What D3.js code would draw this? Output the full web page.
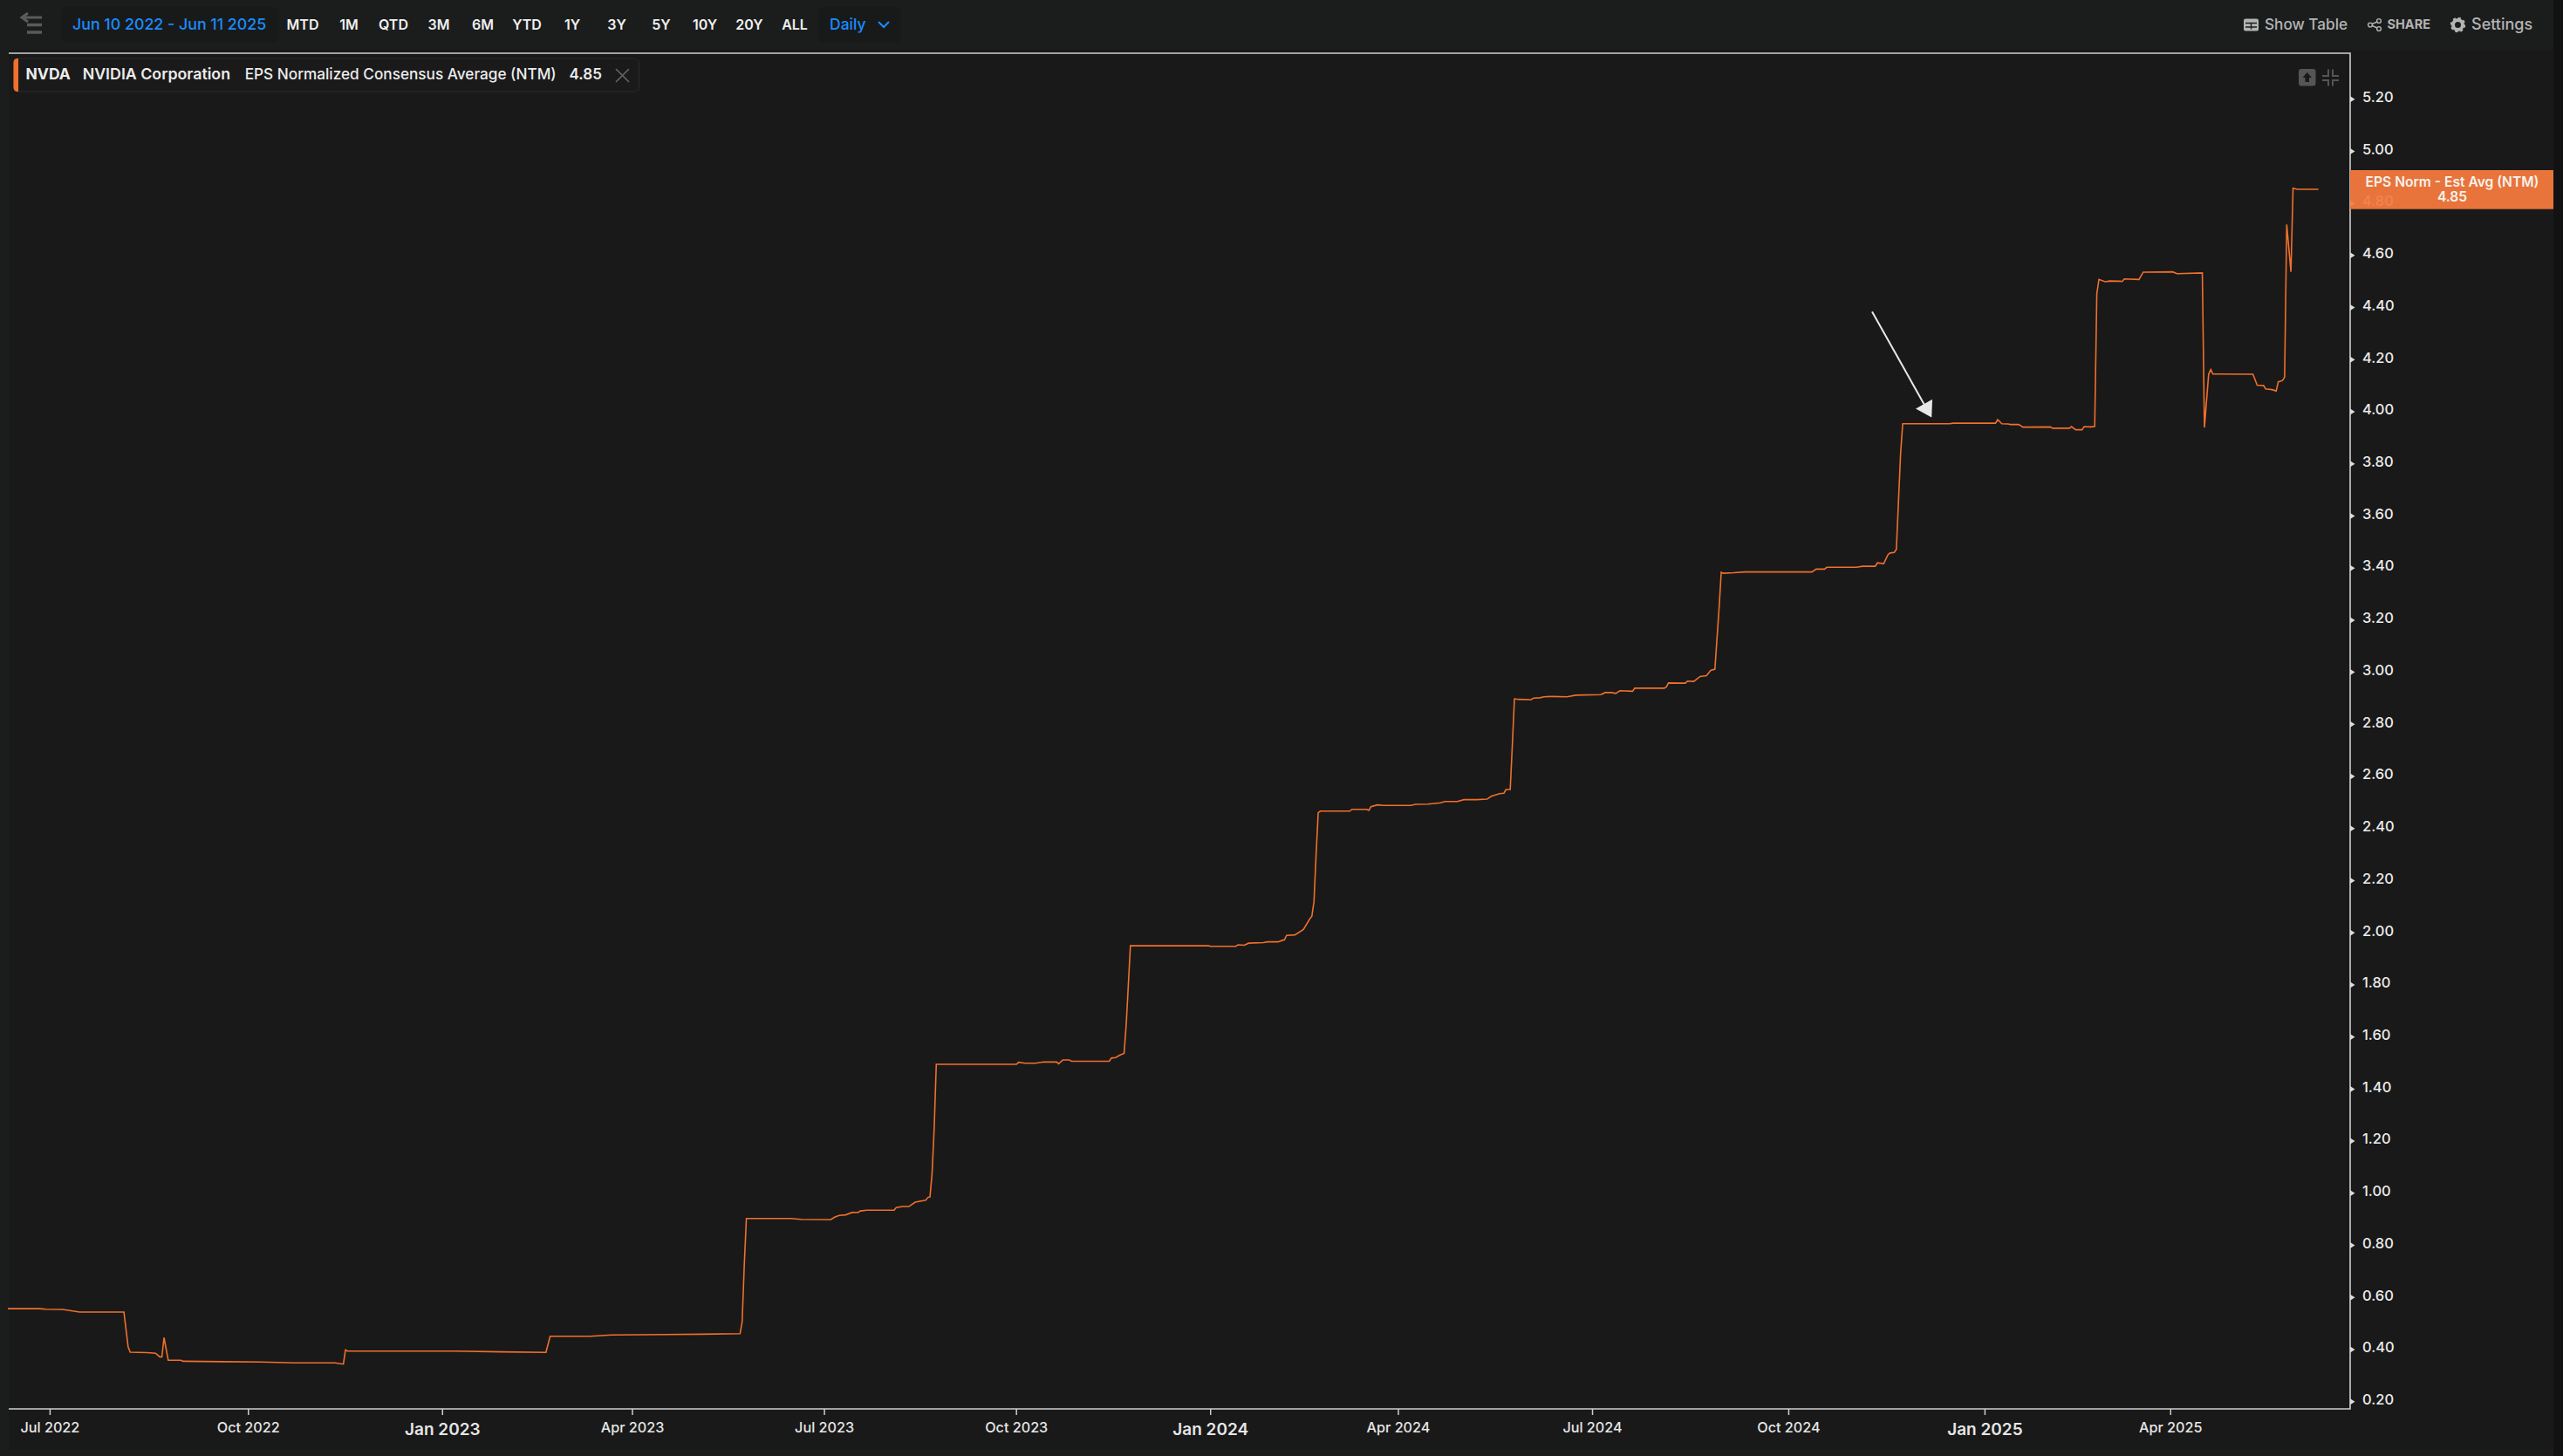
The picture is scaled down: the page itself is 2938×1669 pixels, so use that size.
<!DOCTYPE html>
<html>
<head>
<meta charset="utf-8">
<script src="https://cdnjs.cloudflare.com/ajax/libs/d3/7.8.5/d3.min.js"></script>
<style>
  html, body { margin: 0; padding: 0; background: #191919; overflow: hidden; }
  text { font-family: Inter, "Noto Sans", sans-serif; }
</style>
</head>
<body>
<svg id="chart" width="2938" height="1669"></svg>
<script>
// values, one date per value
const dates = [
  '2022-06-11','2022-06-26','2022-06-29','2022-07-07','2022-07-15','2022-08-05','2022-08-07','2022-08-08','2022-08-16','2022-08-20',
  '2022-08-22','2022-08-23','2022-08-24','2022-08-26','2022-09-01','2022-09-02','2022-10-09','2022-10-25','2022-11-13','2022-11-17',
  '2022-11-18','2022-11-19','2023-01-09','2023-01-31','2023-02-21','2023-02-23','2023-03-14','2023-03-24','2023-05-06','2023-05-24',
  '2023-05-25','2023-05-26','2023-05-27','2023-06-17','2023-06-22','2023-07-06','2023-07-08','2023-07-10','2023-07-13','2023-07-16',
  '2023-07-19','2023-07-20','2023-07-23','2023-08-05','2023-08-06','2023-08-09','2023-08-12','2023-08-15','2023-08-20','2023-08-21',
  '2023-08-22','2023-08-23','2023-08-24','2023-08-25','2023-10-02','2023-10-03','2023-10-06','2023-10-11','2023-10-15','2023-10-21',
  '2023-10-22','2023-10-24','2023-10-27','2023-10-28','2023-11-15','2023-11-16','2023-11-18','2023-11-20','2023-11-22','2023-11-23',
  '2023-11-25','2024-01-01','2024-01-02','2024-01-14','2024-01-15','2024-01-18','2024-01-20','2024-01-27','2024-01-29','2024-02-03',
  '2024-02-05','2024-02-06','2024-02-07','2024-02-11','2024-02-15','2024-02-18','2024-02-19','2024-02-20','2024-02-21','2024-02-22',
  '2024-02-23','2024-03-08','2024-03-09','2024-03-16','2024-03-17','2024-03-18','2024-03-21','2024-03-24','2024-04-06','2024-04-08',
  '2024-04-14','2024-04-20','2024-04-22','2024-04-28','2024-05-01','2024-05-07','2024-05-12','2024-05-14','2024-05-16','2024-05-18',
  '2024-05-20','2024-05-21','2024-05-23','2024-05-24','2024-05-25','2024-05-27','2024-06-02','2024-06-03','2024-06-06','2024-06-08',
  '2024-06-11','2024-06-19','2024-06-23','2024-07-05','2024-07-07','2024-07-10','2024-07-12','2024-07-14','2024-07-20','2024-07-21',
  '2024-08-04','2024-08-05','2024-08-06','2024-08-14','2024-08-15','2024-08-18','2024-08-21','2024-08-24','2024-08-26','2024-08-28',
  '2024-08-30','2024-08-31','2024-09-01','2024-09-06','2024-09-11','2024-10-13','2024-10-15','2024-10-19','2024-10-20','2024-11-03',
  '2024-11-06','2024-11-12','2024-11-13','2024-11-16','2024-11-18','2024-11-19','2024-11-21','2024-11-22','2024-11-24','2024-11-25',
  '2024-12-17','2024-12-19','2025-01-08','2025-01-09','2025-01-11','2025-01-14','2025-01-15','2025-01-19','2025-01-21','2025-02-03',
  '2025-02-04','2025-02-12','2025-02-13','2025-02-15','2025-02-18','2025-02-19','2025-02-22','2025-02-24','2025-02-25','2025-02-26',
  '2025-03-01','2025-03-03','2025-03-08','2025-03-09','2025-03-10','2025-03-17','2025-03-19','2025-04-02','2025-04-04','2025-04-16',
  '2025-04-17','2025-04-19','2025-04-20','2025-04-21','2025-05-10','2025-05-12','2025-05-15','2025-05-16','2025-05-19','2025-05-21',
  '2025-05-22','2025-05-24','2025-05-25','2025-05-26','2025-05-28','2025-05-29','2025-05-31','2025-06-10'
];
const epsValues = [
  .557,.557,.555,.554,.544,.544,.41,.39,.388,.386,
  .372,.372,.446,.359,.359,.355,.352,.349,.349,.344,
  .398,.394,.394,.391,.389,.451,.451,.456,.459,.461,
  .507,.725,.903,.903,.900,.899,.909,.915,.917,.926,
  .927,.932,.935,.935,.945,.949,.949,.966,.973,.984,
  .986,1.076,1.249,1.495,1.495,1.503,1.499,1.499,1.504,1.504,
  1.497,1.512,1.512,1.507,1.507,1.519,1.521,1.530,1.537,1.646,
  1.950,1.950,1.948,1.948,1.954,1.952,1.960,1.962,1.965,1.965,
  1.971,1.973,1.990,1.992,2.013,2.053,2.064,2.12,2.30,2.461,
  2.467,2.467,2.474,2.474,2.470,2.484,2.491,2.489,2.489,2.493,
  2.494,2.499,2.504,2.504,2.511,2.511,2.513,2.524,2.529,2.534,
  2.536,2.550,2.550,2.72,2.898,2.896,2.895,2.901,2.902,2.906,
  2.907,2.906,2.912,2.914,2.922,2.922,2.919,2.929,2.927,2.939,
  2.939,2.944,2.959,2.958,2.966,2.965,2.984,2.987,3.007,3.012,
  3.248,3.384,3.380,3.382,3.385,3.385,3.396,3.396,3.403,3.403,
  3.407,3.407,3.420,3.417,3.451,3.458,3.460,3.472,3.839,3.954,
  3.954,3.956,3.956,3.970,3.954,3.953,3.951,3.951,3.941,3.942,
  3.937,3.937,3.943,3.931,3.931,3.943,3.942,3.944,4.453,4.508,
  4.499,4.502,4.501,4.500,4.510,4.508,4.536,4.537,4.530,4.533,
  3.940,4.144,4.162,4.145,4.144,4.102,4.101,4.088,4.085,4.080,
  4.115,4.120,4.133,4.719,4.537,4.858,4.854,4.854
];

const xTickDates = ['2022-07-01','2022-10-03','2023-01-03','2023-04-03','2023-07-03','2023-10-02','2024-01-02','2024-03-31','2024-07-01','2024-10-02','2025-01-03','2025-04-01'];
const xTickLabels = ['Jul 2022','Oct 2022','Jan 2023','Apr 2023','Jul 2023','Oct 2023','Jan 2024','Apr 2024','Jul 2024','Oct 2024','Jan 2025','Apr 2025'];
const yTickValues = [0.2,0.4,0.6,0.8,1,1.2,1.4,1.6,1.8,2,2.2,2.4,2.6,2.8,3,3.2,3.4,3.6,3.8,4,4.2,4.4,4.6,4.8,5,5.2];

const rangeButtons = ['MTD','1M','QTD','3M','6M','YTD','1Y','3Y','5Y','10Y','20Y','ALL'];
const rangeButtonX = [347,400,451,503,553.5,604,656,707,758,808,859,911];
const lastValue = 4.85;

const parse = d3.utcParse('%Y-%m-%d');
const orange = '#f0702c';

const svg = d3.select('#chart');
const frame = {l: 10, t: 61, r: 2694, b: 1615};

const x = d3.scaleUtc()
    .domain([parse('2022-06-10'), parse('2025-06-11')])
    .range([6.6, 2660]);
const y = d3.scaleLinear()
    .domain([0.2, 5.2])
    .range([1606.7, 113.7]);

// backgrounds
svg.append('rect').attr('width', 2938).attr('height', 1669).attr('fill', '#191919');
svg.append('rect').attr('width', 2938).attr('height', 57).attr('fill', '#1b1d1d');
svg.append('rect').attr('width', 10).attr('height', 1669).attr('fill', '#1b1d1d');
svg.append('rect').attr('y', 1661).attr('width', 2938).attr('height', 8).attr('fill', '#1b1d1d');
svg.append('rect').attr('x', 2927).attr('width', 11).attr('height', 1669).attr('fill', '#121212');

// top toolbar
const bar = svg.append('g');
bar.append('rect').attr('x', 70).attr('y', 8).attr('width', 249).attr('height', 41).attr('rx', 6).attr('fill', '#181a1a');
bar.append('rect').attr('x', 938).attr('y', 8).attr('width', 95).attr('height', 41).attr('rx', 6).attr('fill', '#181a1a');
bar.append('text').attr('x', 83).attr('y', 33.5).attr('fill', '#1a8cff')
    .attr('font-size', 17.8).attr('font-weight', 500).text('Jun 10 2022 - Jun 11 2025');
bar.selectAll('.range').data(rangeButtons).join('text')
    .attr('class', 'range')
    .attr('x', (d, i) => rangeButtonX[i])
    .attr('y', 33.5)
    .attr('text-anchor', 'middle')
    .attr('fill', '#f0f0f0')
    .attr('font-size', 16)
    .attr('font-weight', 600)
    .text(d => d);
bar.append('text').attr('x', 951).attr('y', 34).attr('fill', '#1a8cff')
    .attr('font-size', 17.5).attr('font-weight', 500).text('Daily');
bar.append('path').attr('d', 'M1007,25 L1013,31 L1019,25').attr('fill', 'none').attr('stroke', '#1a8cff').attr('stroke-width', 2);

// collapse icon
bar.append('path').attr('d', 'M48,20 H26 M32,15 L25,20 L32,25').attr('fill', 'none').attr('stroke', '#5a5a5a').attr('stroke-width', 3);
bar.append('path').attr('d', 'M31,28.5 H48 M31,37 H48').attr('fill', 'none').attr('stroke', '#5a5a5a').attr('stroke-width', 3.5);

// right toolbar
const grey = '#b4b4b4';
bar.append('rect').attr('x', 2572).attr('y', 21.5).attr('width', 17).attr('height', 14).attr('rx', 2).attr('fill', grey);
bar.append('path').attr('d', 'M2574,26.5 H2587 M2580.5,26.5 V33.5 M2574,31 H2587').attr('stroke', '#1b1d1d').attr('stroke-width', 1.4).attr('fill', 'none');
bar.append('text').attr('x', 2596).attr('y', 33.5).attr('fill', grey).attr('font-size', 17.2).attr('font-weight', 500).text('Show Table');
bar.append('path').attr('d', 'M2727,24 L2717,28.5 L2727,33').attr('fill', 'none').attr('stroke', grey).attr('stroke-width', 1.4);
[[2717, 28.5], [2727, 24], [2727, 33]].forEach(p => {
  bar.append('circle').attr('cx', p[0]).attr('cy', p[1]).attr('r', 2.4).attr('fill', '#1b1d1d').attr('stroke', grey).attr('stroke-width', 1.4);
});
bar.append('text').attr('x', 2736.5).attr('y', 33).attr('fill', grey).attr('font-size', 14.5).attr('font-weight', 700).text('SHARE');
bar.append('circle').attr('cx', 2817.5).attr('cy', 28.5).attr('r', 5.5).attr('fill', 'none').attr('stroke', grey).attr('stroke-width', 4);
bar.append('circle').attr('cx', 2817.5).attr('cy', 28.5).attr('r', 7.5).attr('fill', 'none').attr('stroke', grey).attr('stroke-width', 2.5).attr('stroke-dasharray', '3 2.9');
bar.append('text').attr('x', 2833).attr('y', 33.5).attr('fill', grey).attr('font-size', 18).attr('font-weight', 500).text('Settings');

// axes
const xAxis = d3.axisBottom(x)
    .tickValues(xTickDates.map(parse))
    .tickFormat((d, i) => xTickLabels[i])
    .tickSize(7)
    .offset(0);
const gx = svg.append('g').attr('transform', `translate(0,${frame.b})`).call(xAxis);
gx.select('.domain').remove();
gx.selectAll('line').attr('stroke', '#cfcfcf').attr('stroke-width', 1.5);
gx.selectAll('text')
    .attr('fill', '#e6e6e6')
    .attr('font-weight', (d, i) => xTickLabels[i].startsWith('Jan') ? 600 : 500)
    .attr('font-size', (d, i) => xTickLabels[i].startsWith('Jan') ? 19 : 16.2)
    .attr('y', (d, i) => xTickLabels[i].startsWith('Jan') ? 17 : 15);

const yAxis = d3.axisRight(y)
    .tickValues(yTickValues)
    .tickFormat(d3.format('.2f'))
    .tickSize(0)
    .offset(0);

// frame
svg.append('path')
    .attr('d', `M${frame.l},${frame.t} H${frame.r} V${frame.b} H${frame.l}`)
    .attr('fill', 'none')
    .attr('stroke', '#cfcfcf')
    .attr('stroke-width', 1.6);

// last value box sits under the y axis labels
svg.append('rect').attr('x', frame.r).attr('y', 195).attr('width', 233).attr('height', 44.7).attr('fill', '#e8743b');

const gy = svg.append('g').attr('transform', `translate(${frame.r},0)`).call(yAxis);
gy.select('.domain').remove();
gy.selectAll('.tick').append('path').attr('d', 'M0,-3.5 L5.5,0 L0,3.5 Z')
    .attr('fill', d => d === 4.8 ? '#f08452' : '#dcdcdc');
gy.selectAll('text')
    .attr('x', 14)
    .attr('dy', '0.2em')
    .attr('fill', d => d === 4.8 ? '#f08452' : '#ececec')
    .attr('font-weight', 500)
    .attr('font-size', 16.5);

svg.append('text').attr('x', 2811).attr('y', 214).attr('text-anchor', 'middle').attr('fill', '#f7f3ef')
    .attr('font-size', 15.6).attr('font-weight', 600).text('EPS Norm - Est Avg (NTM)');
svg.append('text').attr('x', 2811).attr('y', 231).attr('text-anchor', 'middle').attr('fill', '#f7f3ef')
    .attr('font-size', 15.6).attr('font-weight', 600).text(lastValue.toFixed(2));

// series line
const line = d3.line()
    .x((d, i) => x(parse(dates[i])))
    .y(d => y(d));
svg.append('path')
    .datum(epsValues)
    .attr('d', line)
    .attr('fill', 'none')
    .attr('stroke', orange)
    .attr('stroke-width', 1.6)
    .attr('stroke-linejoin', 'miter');

// arrow drawn on the chart, pointing at the Nov 2024 step
const arrowTail = [new Date('2024-11-10T12:00Z'), 4.384];
const arrowTip = [new Date('2024-12-08T17:00Z'), 3.978];
const tail = [x(arrowTail[0]), y(arrowTail[1])];
const tip = [x(arrowTip[0]), y(arrowTip[1])];
const len = Math.hypot(tip[0] - tail[0], tip[1] - tail[1]);
const ux = (tip[0] - tail[0]) / len;
const uy = (tip[1] - tail[1]) / len;
const headL = 17.7, headW = 10.9;
const baseX = tip[0] - ux * headL, baseY = tip[1] - uy * headL;
svg.append('line')
    .attr('x1', tail[0]).attr('y1', tail[1])
    .attr('x2', baseX).attr('y2', baseY)
    .attr('stroke', '#e8e8e8').attr('stroke-width', 2);
svg.append('path')
    .attr('d', `M${tip[0]},${tip[1]} L${baseX - uy * headW},${baseY + ux * headW} L${baseX + uy * headW},${baseY - ux * headW} Z`)
    .attr('fill', '#e8e8e8');

// legend chip
const chip = svg.append('g');
chip.append('rect').attr('x', 15.5).attr('y', 67).attr('width', 717).attr('height', 38).attr('rx', 5)
    .attr('fill', '#1a1a1a').attr('stroke', '#2b2b2b');
chip.append('path').attr('d', 'M21,67 H20 Q15.5,67 15.5,72 V100 Q15.5,105 20,105 H21 Z').attr('fill', orange);
const chipText = [
  {x: 29.5, t: 'NVDA', w: 700, s: 17.5},
  {x: 94.7, t: 'NVIDIA Corporation', w: 600, s: 17.8},
  {x: 280.7, t: 'EPS Normalized Consensus Average (NTM)', w: 500, s: 17.2},
  {x: 652.6, t: '4.85', w: 600, s: 17}
];
chip.selectAll('.chiptext').data(chipText).join('text')
    .attr('class', 'chiptext')
    .attr('x', d => d.x)
    .attr('y', 90.5)
    .attr('fill', '#ececec')
    .attr('font-size', d => d.s)
    .attr('font-weight', d => d.w)
    .text(d => d.t);
chip.append('path').attr('d', 'M706,79 L721,94 M721,79 L706,94').attr('stroke', '#666').attr('stroke-width', 1.6);

// small corner icons
const icons = svg.append('g');
icons.append('rect').attr('x', 2635).attr('y', 79).attr('width', 19.5).attr('height', 19.5).attr('rx', 3).attr('fill', '#555');
icons.append('path').attr('d', 'M2644.7,83 L2650,89 H2647 V94 H2642.5 V89 H2639.5 Z').attr('fill', '#191919');
icons.append('path').attr('d', 'M2662,87 H2669 V79.5 M2674,79.5 V87 H2681 M2662,92 H2669 V98.5 M2674,98.5 V92 H2681')
    .attr('fill', 'none').attr('stroke', '#555').attr('stroke-width', 2);
</script>
</body>
</html>
